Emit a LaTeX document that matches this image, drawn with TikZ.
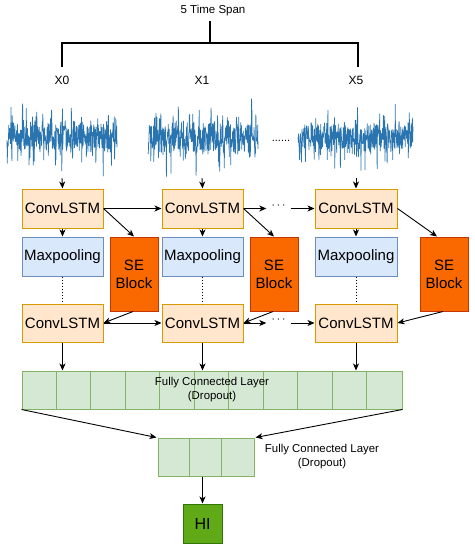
\documentclass[tikz,border=0pt]{standalone}
\usepackage{fontspec}
\setmainfont{Liberation Sans}
\usetikzlibrary{arrows.meta,calc}
\definecolor{lstmfill}{HTML}{FFE6CC}
\definecolor{lstmdraw}{HTML}{D79B00}
\definecolor{mpfill}{HTML}{DAE8FC}
\definecolor{mpdraw}{HTML}{6C8EBF}
\definecolor{sefill}{HTML}{FA6800}
\definecolor{sedraw}{HTML}{C73500}
\definecolor{fcfill}{HTML}{D5E8D4}
\definecolor{fcdraw}{HTML}{82B366}
\definecolor{hifill}{HTML}{60A917}
\definecolor{hidraw}{HTML}{2D7600}
\definecolor{wavecol}{HTML}{2A74B0}
\tikzset{
  boxbase/.style={draw, line width=1pt, inner sep=0pt, font=\fontsize{15}{17}\selectfont},
  lstm/.style={boxbase, fill=lstmfill, draw=lstmdraw, minimum width=81pt, minimum height=39pt},
  mp/.style={boxbase, fill=mpfill, draw=mpdraw, minimum width=81pt, minimum height=39pt},
  seblk/.style={boxbase, fill=sefill, draw=sedraw, minimum width=48pt, minimum height=74pt, align=center},
  fcbox/.style={draw=fcdraw, fill=fcfill, line width=1pt, inner sep=0pt},
  hibox/.style={boxbase, fill=hifill, draw=hidraw, minimum width=39pt, minimum height=39pt, font=\fontsize{16}{18}\selectfont},
  arr/.style={-{Stealth[length=7pt,width=6pt,inset=2pt]}, line width=0.9pt, black},
  bracket/.style={line width=2pt, black},
  lbl/.style={inner sep=0pt, font=\fontsize{12}{14}\selectfont},
  fclbl/.style={inner sep=0pt, align=center, font=\fontsize{11.4}{14}\selectfont},
  wave/.style={draw=wavecol, line width=0.7pt, line join=round},
  dotsnode/.style={inner sep=0pt, minimum width=24pt, font=\fontsize{12}{14}\selectfont},
}
\begin{document}
\begin{tikzpicture}[x=1pt,y=-1pt]
\useasboundingbox (0,0) rectangle (474,548);
% title and bracket
\node[lbl, font=\fontsize{11.5}{14}\selectfont] (title) at (213,11) {5 Time Span};
\coordinate (bt) at (210,21);
\coordinate (bm) at (210,43);
\coordinate (bl) at (62,43);
\coordinate (br) at (358,43);
\coordinate (bld) at (62,67);
\coordinate (brd) at (358,67);
\draw[bracket] (bt) -- (bm);
\draw[bracket] (bld) -- (bl) -- (br) -- (brd);
% labels
\node[lbl] (x0) at (62,80) {X0};
\node[lbl] (x1) at (202,80) {X1};
\node[lbl] (x5) at (356,80) {X5};
% waveforms
\pgfmathsetseed{7}
\draw[wave] plot[domain=7:117, samples=360] (\x, {137 + rand*(13+27*rnd^4)});
\draw[wave] plot[domain=148:258, samples=360] (\x, {137 + rand*(14+27*rnd^4)});
\draw[wave] plot[domain=298:413, samples=370] (\x, {137 + rand*(12+27*rnd^4)});
\node[inner sep=0pt, font=\fontsize{11}{13}\selectfont] (wd) at (281,141) {......};
\coordinate (w0) at (62,178);
\coordinate (w1) at (202,178);
\coordinate (w5) at (356,178);
% boxes
\node[lstm] (c1) at (62.5,208.5) {ConvLSTM};
\node[lstm] (c2) at (202.5,208.5) {ConvLSTM};
\node[lstm, minimum width=82pt] (c3) at (356,208.5) {ConvLSTM};
\node[mp] (m1) at (62.5,256.5) {Maxpooling};
\node[mp] (m2) at (202.5,256.5) {Maxpooling};
\node[mp, minimum width=82pt] (m3) at (356,256.5) {Maxpooling};
\node[seblk] (s1) at (134,274) {SE\\[1pt]Block};
\node[seblk] (s2) at (274,274) {SE\\[1pt]Block};
\node[seblk] (s3) at (444,274) {SE\\[1pt]Block};
\node[lstm, minimum height=38pt] (b1) at (62.5,323) {ConvLSTM};
\node[lstm, minimum height=38pt] (b2) at (202.5,323) {ConvLSTM};
\node[lstm, minimum height=38pt, minimum width=82pt] (b3) at (356,323) {ConvLSTM};
\node[dotsnode] (d1) at (278.5,206) {$\cdots$};
\node[dotsnode] (d2) at (278.5,320) {$\cdots$};
% arrows top
\draw[arr] (w0) -- (c1.north);
\draw[arr] (w1) -- (c2.north);
\draw[arr] (w5) -- (c3.north);
\draw[arr] (c1.east) -- (c2.west);
\draw[arr] (c2.east) -- (d1.west |- c2.east);
\draw[arr] (d1.east |- c3.west) -- (c3.west);
\draw[arr] (c1.east) -- (s1.north);
\draw[arr] (c2.east) -- (s2.north);
\draw[arr] (c3.east) -- ([xshift=-7pt]s3.north);
\draw[arr] (c1.south) -- (m1.north);
\draw[arr] (c2.south) -- (m2.north);
\draw[arr] (c3.south) -- (m3.north);
\draw[dotted, line width=1pt] (m1.south) -- (b1.north);
\draw[dotted, line width=1pt] (m2.south) -- (b2.north);
\draw[dotted, line width=1pt] (m3.south) -- (b3.north);
% arrows bottom
\draw[arr] ([xshift=-1pt]s1.south) -- (b1.east);
\draw[arr] ([xshift=-1pt]s2.south) -- (b2.east);
\draw[arr] ([xshift=-1pt]s3.south) -- (b3.east);
\draw[arr] (b1.east) -- (b2.west);
\draw[arr] (b2.east) -- (d2.west |- b2.east);
\draw[arr] (d2.east |- b3.west) -- (b3.west);
% FC layer
\node[fcbox, minimum width=380pt, minimum height=38pt] (fc) at (212,390) {};
\foreach \i in {1,...,10} {
  \draw[fcdraw, line width=1pt] ($(fc.north west)+(\i*34.545,0)$) -- ($(fc.south west)+(\i*34.545,0)$);
}
\node[fclbl] (fct) at (212,390) {Fully Connected Layer\\(Dropout)};
\draw[arr] (b1.south) -- (b1.south |- fc.north);
\draw[arr] (b2.south) -- (b2.south |- fc.north);
\draw[arr] (b3.south) -- (b3.south |- fc.north);
\node[fcbox, minimum width=96pt, minimum height=38pt] (fc2) at (206,457) {};
\foreach \i in {1,2} {
  \draw[fcdraw, line width=1pt] ($(fc2.north west)+(\i*32,0)$) -- ($(fc2.south west)+(\i*32,0)$);
}
\node[fclbl] (fc2t) at (322,457) {Fully Connected Layer\\(Dropout)};
\draw[arr] (fc.south west) -- ([xshift=-1pt]fc2.north west);
\draw[arr] (fc.south east) -- ([xshift=1pt]fc2.north east);
\node[hibox] (hi) at (202.5,523.5) {HI};
\draw[arr] (fc2.south -| hi.north) -- (hi.north);
\end{tikzpicture}
\end{document}
